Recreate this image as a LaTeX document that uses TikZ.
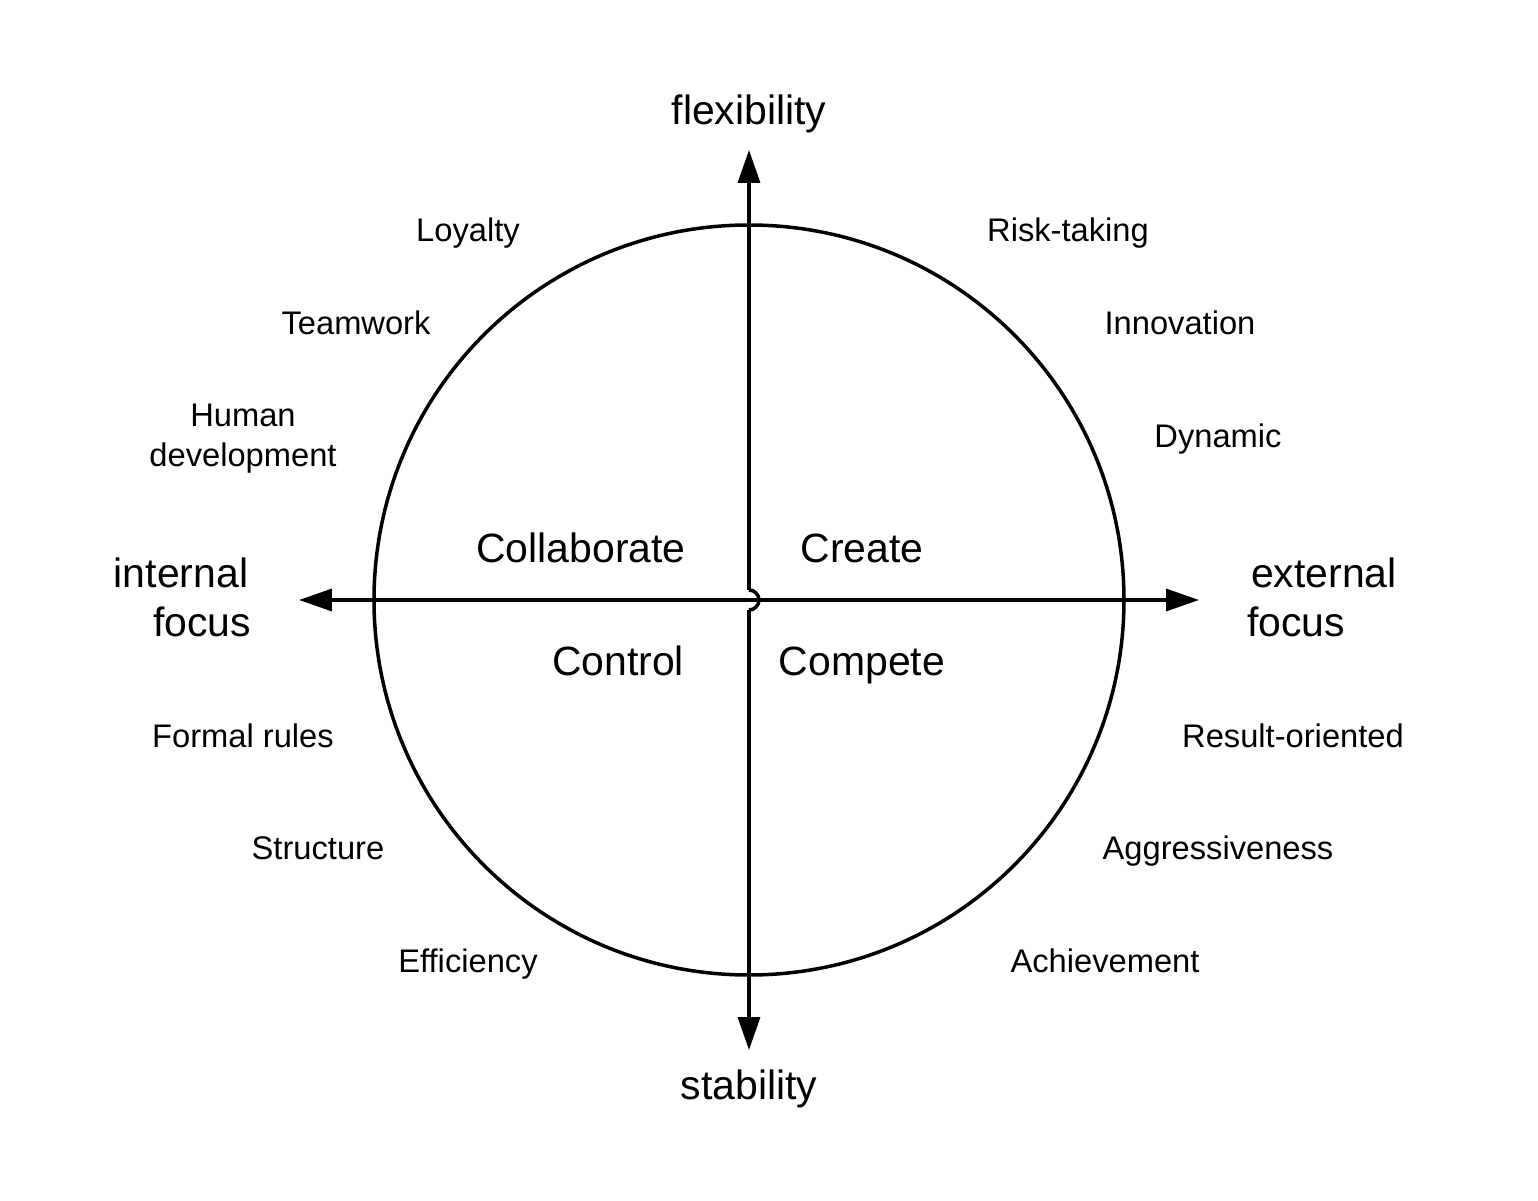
\documentclass[tikz,border=0pt]{standalone}
\usepackage{fontspec}
\setmainfont{Liberation Sans}
\usetikzlibrary{arrows.meta}

\begin{document}
\begin{tikzpicture}[x=0.02cm, y=0.02cm, line width=2pt,
        tip/.style={-{Triangle[length=0.66cm, width=0.44cm]}},
        trait/.style={font=\fontsize{18.6}{22.7}\selectfont, align=center, text depth=0pt},
        quad/.style={font=\fontsize{23.3}{27.8}\selectfont, text depth=0pt},
        axislabel/.style={font=\fontsize{23.3}{27.8}\selectfont, text depth=0pt}]
        \useasboundingbox (-749,-600) rectangle (789,600);
        \coordinate (O) at (0,0);
        \coordinate (top) at (0,450);
        \coordinate (bottom) at (0,-450);
        \coordinate (left) at (-450,0);
        \coordinate (right) at (450,0);
        \draw (O) circle (375);
        \draw[tip] (O) -- (right);
        \draw[tip] (O) -- (left);
        \draw[tip] (O) ++(0,10) -- (top);
        \draw[tip] (O) ++(0,-10) -- (bottom);
        \draw (0,-10) arc (-90:90:10);
        % axis labels
        \node[axislabel] (flex) at (0,490) {flexibility};
        \node[axislabel] (stab) at (0,-485) {stability};
        \node[axislabel] (intern) at (-568,27) {internal};
        \node[axislabel] (internfocus) at (-547,-22) {focus};
        \node[axislabel] (extern) at (575,27) {external};
        \node[axislabel] (externfocus) at (547,-22) {focus};
        % quadrants
        \node[quad] (collab) at (-168,52) {Collaborate};
        \node[quad] (create) at (113,52) {Create};
        \node[quad] (control) at (-131,-61) {Control};
        \node[quad] (compete) at (113,-61) {Compete};
        % traits
        \node[trait] (loyalty) at (-281,370) {Loyalty};
        \node[trait] (teamwork) at (-393,277) {Teamwork};
        \node[trait] (human) at (-506,165) {Human\\development};
        \node[trait] (risk) at (319,370) {Risk-taking};
        \node[trait] (innov) at (431,277) {Innovation};
        \node[trait] (dynamic) at (469,164) {Dynamic};
        \node[trait] (formal) at (-506,-136) {Formal rules};
        \node[trait] (struct) at (-431,-248) {Structure};
        \node[trait] (effic) at (-281,-361) {Efficiency};
        \node[trait] (result) at (544,-136) {Result-oriented};
        \node[trait] (aggr) at (469,-248) {Aggressiveness};
        \node[trait] (achieve) at (356,-361) {Achievement};
\end{tikzpicture}
\end{document}
